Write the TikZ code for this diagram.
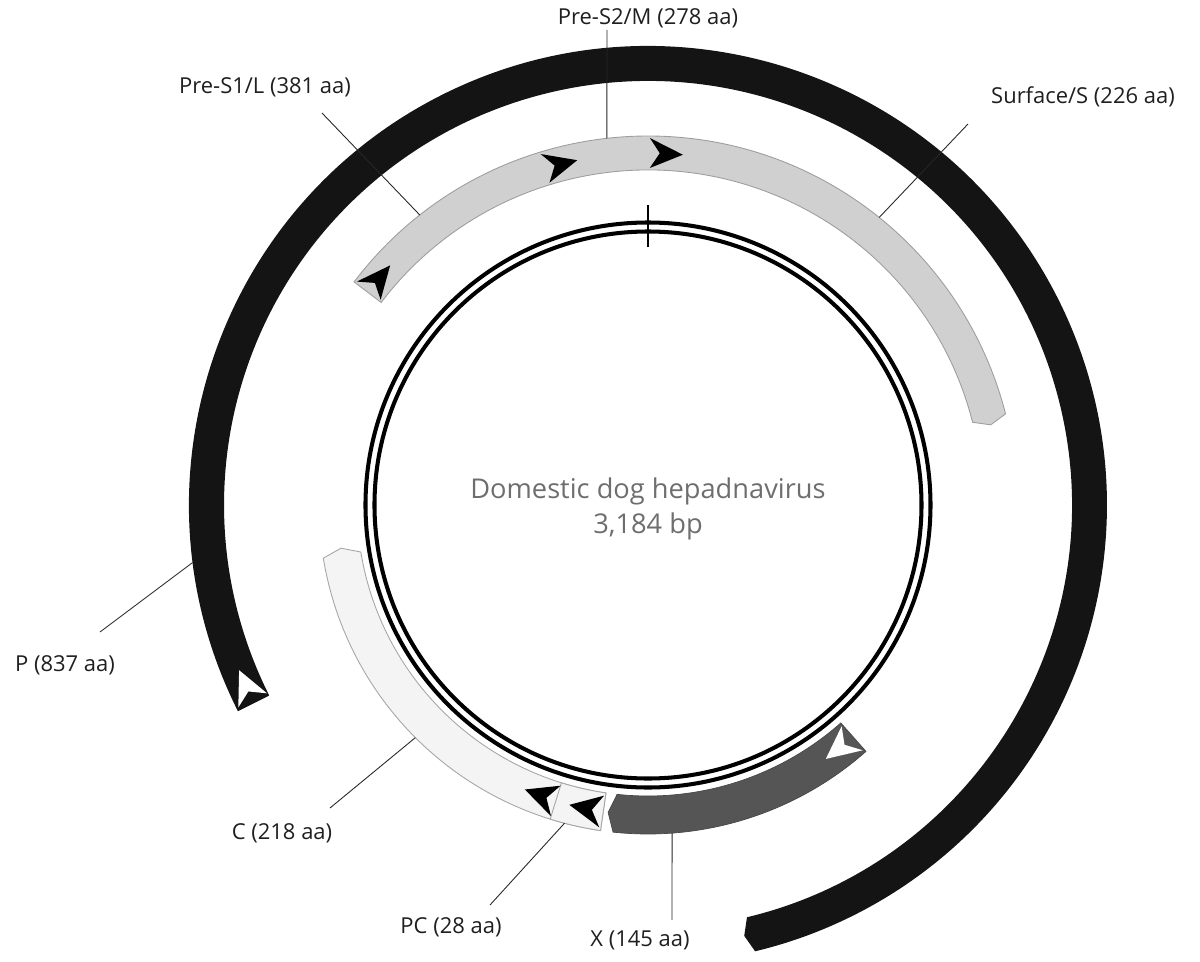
\documentclass[tikz,border=0pt]{standalone}
\usepackage{fontspec}
\setmainfont{Open Sans}
\definecolor{pcol}{HTML}{141414}
\definecolor{scol}{HTML}{D0D0D0}
\definecolor{xcol}{HTML}{555555}
\definecolor{ccol}{HTML}{F4F4F4}
\definecolor{txtgray}{HTML}{6E6E6E}
\tikzset{
lbl/.style={font=\fontsize{12.5}{15}\selectfont, text=black!88, inner sep=0pt},
lead/.style={draw=black!85, line width=0.5pt},
genome/.style={draw=black, line width=2.3pt},
tickmark/.style={draw=black, line width=0.6pt},
pband/.style={fill=pcol},
sband/.style={fill=scol, draw=black!38, line width=0.5pt},
xband/.style={fill=xcol, draw=xcol!85!black, line width=0.4pt},
cband/.style={fill=ccol, draw=black!35, line width=0.5pt},
}
% ring segment with pointed end: start, end (compass deg), r in, r out, style
\newcommand{\orfband}[5]{%
\path[#5] ({90-(#1)}:#3) -- ({90-(#1)}:#4)
  arc[start angle={90-(#1)}, end angle={90-(#2)}, radius=#4]
  -- ({90-(#2)-802/(#3+#4)}:{(#3+#4)/2})
  -- ({90-(#2)}:#3)
  arc[start angle={90-(#2)}, end angle={90-(#1)}, radius=#3] -- cycle;}
% plain ring segment
\newcommand{\orfbox}[5]{%
\path[#5] ({90-(#1)}:#3) -- ({90-(#1)}:#4)
  arc[start angle={90-(#1)}, end angle={90-(#2)}, radius=#4]
  -- ({90-(#2)}:#3)
  arc[start angle={90-(#2)}, end angle={90-(#1)}, radius=#3] -- cycle;}
% arrowhead: back angle, length (deg), r mid, half width, colour
\newcommand{\orfhead}[5]{%
\path[fill=#5] ({90-(#1)}:{#3+#4}) -- ({90-(#1)-(#2)}:#3)
  -- ({90-(#1)}:{#3-#4}) -- ({90-(#1)-0.3*(#2)}:#3) -- cycle;}

\begin{document}
\begin{tikzpicture}[x=0.02cm,y=0.02cm]
\useasboundingbox (-648,-456) rectangle (552,505);

% features
\orfband{243.3}{526.5}{424}{459}{pband}
\orfband{-52.8}{75.7}{335}{369}{sband}
\orfband{138.5}{186.1}{291}{329}{xband}
\orfband{188.3}{260.7}{291}{329}{cband}
\orfbox{188.3}{197.3}{291}{329}{cband}

% start arrows
\orfhead{-52.5}{5.4}{352}{15}{black}
\orfhead{-17}{5.4}{352}{15}{black}
\orfhead{0.3}{5.4}{352}{15}{black}
\orfhead{188.6}{6.1}{310}{16}{black}
\orfhead{197.3}{6.1}{310}{16}{black}
\orfhead{138.8}{6.2}{310}{16}{white}
\orfhead{243.7}{4.3}{441}{16}{white}

% genome
\draw[genome] (0,0) circle[radius=282.5];
\draw[genome] (0,0) circle[radius=273.5];
\draw[tickmark] (90:258) -- (90:300);

\node[font=\fontsize{15.5}{20}\selectfont, text=txtgray, align=center] (title) at (0,-4) {Domestic dog hepadnavirus\\3,184 bp};

\node[lbl] (ps2lab) at (0,487) {Pre-S2/M (278 aa)};
\node[lbl] (ps1lab) at (-383,418) {Pre-S1/L (381 aa)};
\node[lbl] (slab) at (435,408) {Surface/S (226 aa)};
\node[lbl] (plab) at (-583,-160) {P (837 aa)};
\node[lbl] (clab) at (-366,-328) {C (218 aa)};
\node[lbl] (pclab) at (-197,-422) {PC (28 aa)};
\node[lbl] (xlab) at (-8,-435) {X (145 aa)};

\coordinate (ps2pt) at (96.4:369);
\coordinate (ps2end) at (-41,475);
\coordinate (ps1pt) at (128.2:369);
\coordinate (ps1end) at (-326,392);
\coordinate (spt) at (51.2:369);
\coordinate (send) at (320,381);
\coordinate (ppt) at (-172.8:459);
\coordinate (pend) at (-548,-127);
\coordinate (cpt) at (-135:329);
\coordinate (cend) at (-318,-303);
\coordinate (pcpt) at (-104.7:329);
\coordinate (pcend) at (-158,-400);
\coordinate (xpt) at (-85.8:329);
\coordinate (xend) at (24,-415);

\path
(ps2end) edge[lead] (ps2pt)
(ps1end) edge[lead] (ps1pt)
(send) edge[lead] (spt)
(pend) edge[lead] (ppt)
(cend) edge[lead] (cpt)
(pcend) edge[lead] (pcpt)
(xend) edge[lead] (xpt)
;
\end{tikzpicture}
\end{document}
